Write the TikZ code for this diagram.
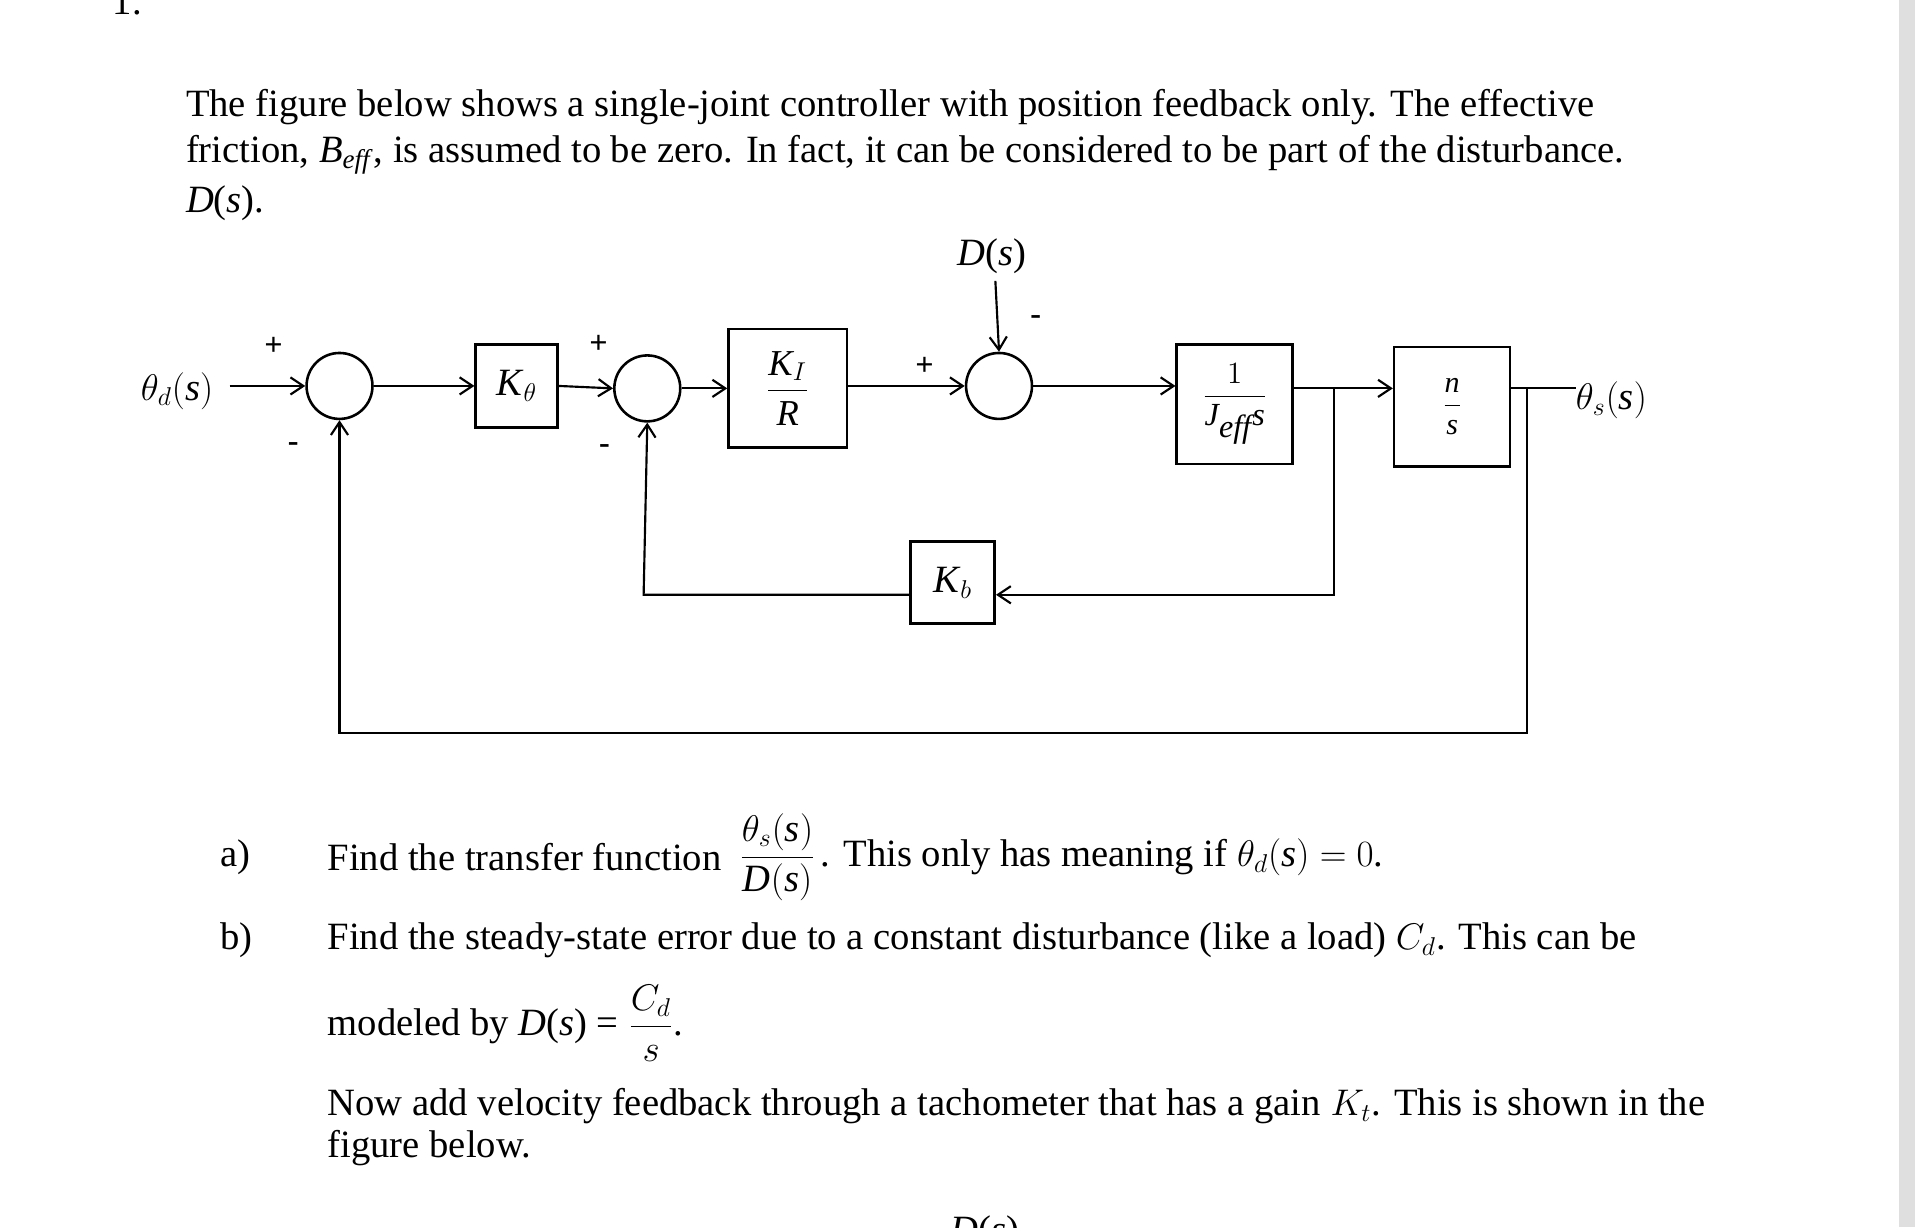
\documentclass[tikz,border=0pt]{standalone}
\usepackage{fontspec}
\setmainfont{Liberation Serif}
\usetikzlibrary{arrows.meta}
\begin{document}
\begin{tikzpicture}[x=0.02cm,y=-0.02cm,
  txt/.style={anchor=west,inner sep=0,font=\fontsize{18}{21}\selectfont},
  blk/.style={draw,line width=1.2pt,inner sep=0},
  sumc/.style={draw,circle,line width=1.2pt,minimum size=1.08cm,inner sep=0},
  sig/.style={font=\fontsize{15}{15}\selectfont\bfseries,inner sep=0},
  ln/.style={line width=1pt},
  ar/.style={line width=1pt,-{Straight Barb[length=6pt,width=8pt]}}]
\useasboundingbox (0,0) rectangle (1568,1005);
\fill[gray!25] (1555,0) rectangle (1568,1005);
\node[txt] (one) at (92,2) {1.};
\node[txt] (p1) at (152,88) {The figure below shows a single-joint controller with position feedback only. The effective};
\node[txt] (p2) at (152,127) {friction, \textit{B}\textsubscript{\textit{eff}}, is assumed to be zero. In fact, it can be considered to be part of the disturbance.};
\node[txt] (p3) at (152,166) {\textit{D}(\textit{s}).};
% blocks
\node[sumc] (s1) at (278,316) {};
\node[sumc] (s2) at (530,318) {};
\node[sumc] (s3) at (818,316) {};
\node[blk,minimum width=1.34cm,minimum height=1.36cm,font=\fontsize{18}{18}\selectfont] (kt) at (423,316) {\textit{K}$_\theta$};
\node[blk,minimum width=1.94cm,minimum height=1.94cm,font=\fontsize{17}{17}\selectfont] (kr) at (645,318) {$\displaystyle\frac{\textit{K}_I}{\textit{R}}$};
\node[blk,minimum width=1.9cm,minimum height=1.96cm,font=\fontsize{15}{15}\selectfont] (jb) at (1011,331) {$\displaystyle\frac{1}{\textit{J}_{\textit{eff}}\textit{s}}$};
\node[blk,minimum width=1.9cm,minimum height=1.96cm,font=\fontsize{14}{14}\selectfont] (ns) at (1189,333) {$\displaystyle\frac{\textit{n}}{\textit{s}}$};
\node[blk,minimum width=1.38cm,minimum height=1.34cm,font=\fontsize{18}{18}\selectfont] (kb) at (780,477) {\textit{K}$_b$};
\node[txt] (thd) at (115,320) {$\theta_d(\textit{s})$};
\node[txt] (ths) at (1290,328) {$\theta_s(\textit{s})$};
\node[font=\fontsize{18}{18}\selectfont,inner sep=0] (ds) at (812,210) {\textit{D}(\textit{s})};
\coordinate (din) at (815,230);
\coordinate (thdE) at (188,316);
\coordinate (outE) at (1290,318);
\coordinate (t1) at (1092,318);
\coordinate (t2) at (1250,318);
% forward
\draw[ar] (thdE) -- (s1);
\draw[ar] (s1) -- (kt);
\draw[ar] (kt.east) -- (s2.west);
\draw[ar] (s2) -- (kr);
\draw[ar] (kr.east |- s3) -- (s3);
\draw[ar] (s3.east) -- (jb.west |- s3);
\draw[ar] (jb.east |- t1) -- (ns.west |- t1);
\draw[ln] (ns.east |- t1) -- (outE);
\draw[ar] (din) -- (s3.north);
% inner feedback
\draw[ar] (t1) -- (1092,487) -- (kb.east |- 0,487);
\draw[ar] (kb.west |- 0,487) -- (527,487) -- (s2.south);
% outer
\draw[ar] (t2) -- (1250,600) -- (278,600) -- (s1.south);
% signs
\node[sig] at (224,284) {+};
\node[sig] at (240,366) {-};
\node[sig] at (490,282) {+};
\node[sig] at (495,368) {-};
\node[sig] at (757,300) {+};
\node[sig] at (848,262) {-};
% questions
\node[txt] (qa) at (180,702) {a)};
\node[txt] (qa1) at (268,702) {Find the transfer function};
\node[txt,anchor=west] (fr) at ([xshift=8pt]qa1.east) {$\displaystyle\frac{\theta_s(\textit{s})}{\textit{D}(\textit{s})}$};
\node[txt] (qa2) at ([xshift=2pt]fr.east |- qa1) {. This only has meaning if $\theta_d(\textit{s})=0$.};
\node[txt] (qb) at (180,770) {b)};
\node[txt] (qb1) at (268,770) {Find the steady-state error due to a constant disturbance (like a load) $C_d$. This can be};
\node[txt] (qb2) at (268,838) {modeled by \textit{D}(\textit{s}) = $\displaystyle\frac{C_d}{s}$.};
\node[txt] (n1) at (268,906) {Now add velocity feedback through a tachometer that has a gain $K_t$. This is shown in the};
\node[txt] (n2) at (268,940) {figure below.};
\node[txt] (cut) at (778,1010) {\textit{D}(\textit{s})};
\end{tikzpicture}
\end{document}
